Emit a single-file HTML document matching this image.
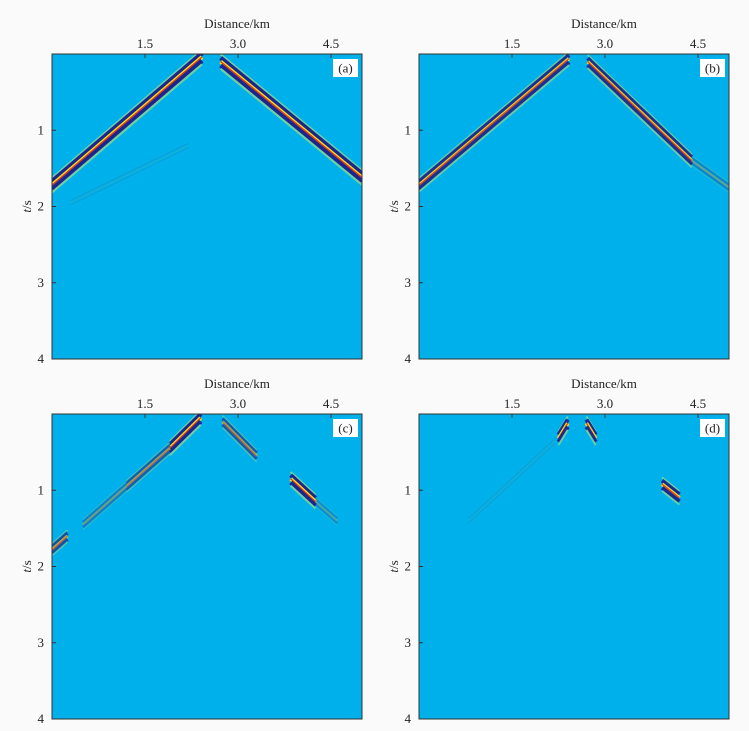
<!DOCTYPE html>
<html><head><meta charset="utf-8"><style>
body{margin:0;background:#fafafa;}
svg{display:block;font-family:"Liberation Serif",serif;}
</style></head><body>
<svg id="fig" width="749" height="731" viewBox="0 0 749 731" xmlns="http://www.w3.org/2000/svg"></svg>
<script>
const panelLabels=["(a)","(b)","(c)","(d)"];
const xTicks=[1.5,3.0,4.5];
const xTickLabels=["1.5","3.0","4.5"];
const yTicks=[1,2,3,4];
const yTickLabels=["1","2","3","4"];
// events: [x0 km, t0 s, x1 km, t1 s, amplitude 0..1]
const eventsA=[[2.42,0.04,0,1.72,1],[2.72,0.1,5,1.62,1],[2.2,1.2,0.3,1.95,0.05]];
const eventsB=[[2.42,0.06,0,1.72,0.8],[2.72,0.1,4.4,1.4,0.8],[4.4,1.4,5,1.75,0.25]];
const eventsC=[[2.4,0.05,1.9,0.45,0.9],[1.9,0.45,1.2,0.95,0.5],[1.2,0.95,0.5,1.45,0.3],[0.25,1.6,0,1.78,0.6],[2.75,0.1,3.3,0.55,0.55],[3.85,0.85,4.25,1.15,0.9],[4.25,1.15,4.6,1.4,0.2]];
const eventsD=[[2.4,0.12,2.25,0.32,0.85],[2.7,0.12,2.85,0.32,0.85],[3.92,0.92,4.2,1.1,0.85],[2.2,0.35,0.8,1.4,0.05]];
const panels=[{L:52,T:54,ev:eventsA},{L:419,T:54,ev:eventsB},{L:52,T:414,ev:eventsC},{L:419,T:414,ev:eventsD}];
const W=310,H=305,XMAX=5,TMAX=4;
const NS="http://www.w3.org/2000/svg";
const svg=document.getElementById('fig');
function mk(tag,attrs,parent){const e=document.createElementNS(NS,tag);for(const k in attrs)e.setAttribute(k,attrs[k]);(parent||svg).appendChild(e);return e;}
const bands=[[-0.095,'#6fd0a0',2.2],[-0.05,'#1b2590',4.5],[0,'#f2e41c',4],[0,'#e8381a',1.4],[0.05,'#1b2590',4.5],[0.095,'#6fd0a0',2.2]];
panels.forEach((p,i)=>{
  const xs=d=>p.L+d/XMAX*W, ys=t=>p.T+t/TMAX*H;
  const g=mk('g',{});
  
  
  const cid='clip'+i;
  const cp=mk('clipPath',{id:cid},g);mk('rect',{x:p.L,y:p.T,width:W,height:H},cp);
  const bg=mk('rect',{x:p.L,y:p.T,width:W,height:H,fill:'#00b0ea'},g);
  
  
  const eg=mk('g',{'clip-path':'url(#'+cid+')'},g);
  p.ev.forEach(e=>{
    const s=e[4];
    bands.forEach(b=>{
      const off=b[0]*(0.55+0.45*s);
      const l=mk('line',{x1:xs(e[0]),y1:ys(e[1]+off),x2:xs(e[2]),y2:ys(e[3]+off),stroke:b[1],'stroke-width':b[2]*(0.45+0.55*s),opacity:Math.min(1,s*1.15)},eg);
      
      
    });
  });
  mk('rect',{x:p.L,y:p.T,width:W,height:H,fill:'none',stroke:'#333','stroke-width':1},g);
  xTicks.forEach((v,j)=>{
    mk('line',{x1:xs(v),y1:p.T,x2:xs(v),y2:p.T+4,stroke:'#333'},g);
    const t=mk('text',{x:xs(v),y:p.T-6,'text-anchor':'middle','font-size':13,fill:'#222'},g);
    t.textContent=xTickLabels[j];
    
    
  });
  yTicks.forEach((v,j)=>{
    mk('line',{x1:p.L,y1:ys(v),x2:p.L+4,y2:ys(v),stroke:'#333'},g);
    const t=mk('text',{x:p.L-8,y:ys(v)+4,'text-anchor':'end','font-size':13,fill:'#222'},g);
    t.textContent=yTickLabels[j];
    
    
  });
  const xt=mk('text',{x:p.L+W/2+30,y:p.T-26,'text-anchor':'middle','font-size':13,fill:'#222'},g);
  xt.textContent='Distance/km';
  
  
  const yt=mk('text',{x:0,y:0,'text-anchor':'middle','font-size':13,fill:'#222',transform:`translate(${p.L-21},${ys(2)}) rotate(-90)`},g);
  yt.innerHTML='<tspan font-style="italic">t</tspan>/s';
  
  
  mk('rect',{x:p.L+W-29,y:p.T+5,width:25,height:18,fill:'#fff'},g);
  const pl=mk('text',{x:p.L+W-16.5,y:p.T+18.5,'text-anchor':'middle','font-size':13,fill:'#222'},g);
  pl.textContent=panelLabels[i];
  
  
});
</script>
</body></html>
